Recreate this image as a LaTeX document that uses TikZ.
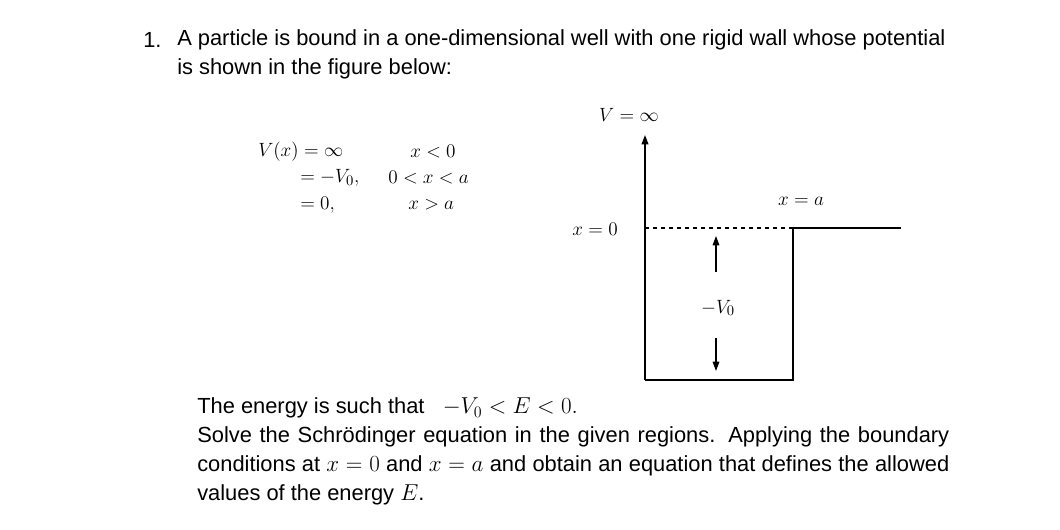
\documentclass[tikz,border=0pt]{standalone}
\usepackage{fontspec}
\setmainfont{Liberation Sans}
\usetikzlibrary{arrows.meta}
\begin{document}
\begin{tikzpicture}[x=0.75pt,y=-0.75pt,
  txt/.style={inner sep=0pt,anchor=west,font=\fontsize{16.4}{21.75}\selectfont},
  mth/.style={inner sep=0pt,font=\fontsize{15}{16}\selectfont},
  para/.style={inner sep=0pt,anchor=north west,text width=752*0.75pt,align=justify,font=\fontsize{16.4}{21.75}\selectfont},
  wall/.style={line width=1.3pt},
  arr/.style={-{Triangle[length=7pt,width=5pt]},line width=0.8pt}]
\useasboundingbox (0,0) rectangle (1060,530);
\node[txt] (n1) at (143,40) {1.};
\node[txt] (l1) at (177,40) {A particle is bound in a one-dimensional well with one rigid wall whose potential};
\node[txt] (l2) at (177,69) {is shown in the figure below:};
% potential definition
\node[mth,anchor=west] (p1) at (258,152) {$V(x) = \infty$};
\node[mth,anchor=west] (c1) at (410,152) {$x<0$};
\node[mth,anchor=west] (p2) at (300,178) {$= -V_0,$};
\node[mth,anchor=west] (c2) at (388,178) {$0<x<a$};
\node[mth,anchor=west] (p3) at (300,205) {$= 0,$};
\node[mth,anchor=west] (c3) at (408,205) {$x>a$};
% figure
\node[mth] (vinf) at (629,115) {$V=\infty$};
\coordinate (top) at (645,135);
\coordinate (bl) at (645,380);
\coordinate (br) at (793,380);
\coordinate (rt) at (793,228);
\coordinate (far) at (901,228);
\coordinate (dl) at (645,228);
\draw[wall] (bl) -- (br) -- (rt) -- (far);
\draw[arr,line width=1.3pt] (bl) -- (top);
\draw[dashed,line width=0.8pt] (dl) -- (rt);
\node[mth] (x0) at (595,229) {$x=0$};
\node[mth] (xa) at (801,201) {$x=a$};
\node[mth] (v0) at (718,308) {$-V_0$};
\coordinate (au) at (716,236);
\coordinate (ad) at (716,371);
\draw[arr] (716,272) -- (au);
\draw[arr] (716,338) -- (ad);
% bottom text
\node[txt] (e1) at (197,408) {The energy is such that \ \ $-V_0<E<0.$};
\node[para] (e2) at (197,426) {Solve the Schrödinger equation in the given regions. Applying the boundary conditions at $x=0$ and $x=a$ and obtain an equation that defines the allowed values of the energy $E$.};
\end{tikzpicture}
\end{document}
